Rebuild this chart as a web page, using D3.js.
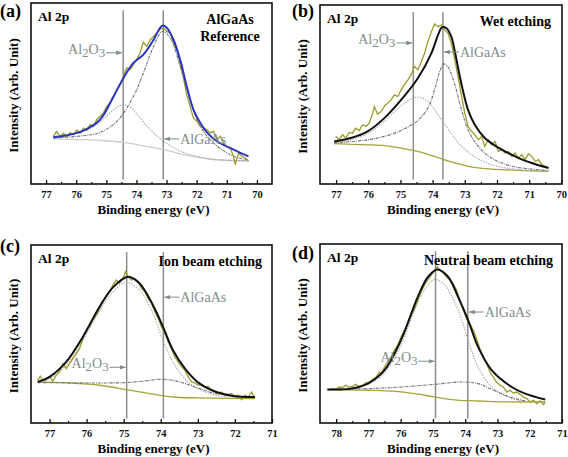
<!DOCTYPE html>
<html>
<head>
<meta charset="utf-8">
<script src="https://cdn.jsdelivr.net/npm/d3@7"></script>
<style>
  body { margin: 0; background: #fff; }
  svg text { font-family: "Liberation Serif", "Times New Roman", serif !important; }
</style>
</head>
<body>
<svg id="chart" width="568" height="457" font-family="Liberation Serif, serif"></svg>
<script>
// values: [binding energy (eV), intensity (arb. units, 0-100 of the frame)]

// (a) AlGaAs reference
const aRaw = [[76.76,26.2],[76.65,29.0],[76.53,26.2],[76.42,28.0],[76.31,25.8],[76.20,28.4],[76.09,27.1],[75.98,29.8],[75.87,28.0],[75.76,30.8],[75.65,29.5],[75.54,32.8],[75.43,31.9],[75.32,35.5],[75.21,37.3],[75.10,39.2],[74.99,42.9],[74.87,44.8],[74.76,48.4],[74.65,52.1],[74.54,54.9],[74.43,59.1],[74.38,62.2],[74.32,64.1],[74.21,63.2],[74.10,65.9],[73.99,68.7],[73.88,72.4],[73.77,78.3],[73.66,76.1],[73.54,79.7],[73.43,81.6],[73.32,83.4],[73.21,85.6],[73.10,86.2],[72.99,84.3],[72.88,83.4],[72.77,77.9],[72.66,74.2],[72.55,66.9],[72.44,58.6],[72.33,49.4],[72.22,43.0],[72.11,36.5],[71.99,34.6],[71.88,31.9],[71.77,31.0],[71.66,30.0],[71.55,28.2],[71.44,29.1],[71.33,24.5],[71.22,26.3],[71.11,22.7],[71.00,20.8],[70.89,19.9],[70.78,15.3],[70.72,10.7],[70.61,17.1],[70.50,15.3],[70.39,14.4],[70.28,12.7]];
const aFit = [[76.76,25.8],[76.31,26.9],[75.76,29.5],[75.21,35.5],[74.76,48.4],[74.43,58.6],[74.10,66.9],[73.77,71.5],[73.43,79.7],[73.28,84.5],[73.14,87.5],[73.00,86.5],[72.77,79.7],[72.55,68.7],[72.33,54.0],[72.11,41.1],[71.88,33.7],[71.66,28.5],[71.33,23.6],[70.78,19.0],[70.28,15.3]];
const aAlGaAs = [[76.76,25.4],[75.76,26.7],[75.21,28.5],[74.65,34.6],[74.10,48.4],[73.77,61.3],[73.43,76.1],[73.14,84.3],[72.88,80.7],[72.55,65.0],[72.22,46.6],[71.88,31.9],[71.44,22.7],[70.78,15.3],[70.28,13.4]];
const aOxide = [[76.76,25.4],[75.76,29.1],[75.21,34.1],[74.76,41.1],[74.49,43.6],[74.21,42.5],[73.88,36.5],[73.54,30.0],[73.10,23.6],[72.44,17.5],[71.88,14.9],[71.33,13.4],[70.28,12.9]];
const aBg = [[76.76,24.9],[75.76,24.5],[75.21,24.1],[74.43,23.0],[73.54,20.4],[72.99,18.6],[72.44,16.2],[71.88,14.5],[71.33,13.4],[70.28,12.7]];

// (b) wet etching
const bRaw = [[77.01,26.6],[76.91,24.7],[76.80,27.5],[76.70,25.7],[76.59,28.8],[76.49,28.4],[76.39,31.2],[76.28,29.9],[76.18,33.1],[76.07,32.2],[75.97,34.0],[75.86,39.6],[75.81,43.3],[75.71,39.0],[75.60,40.5],[75.50,43.3],[75.40,45.2],[75.29,47.0],[75.19,49.8],[75.08,48.9],[74.98,52.6],[74.88,55.4],[74.77,58.2],[74.67,61.0],[74.56,65.6],[74.46,63.8],[74.35,68.4],[74.25,73.0],[74.15,79.6],[74.04,85.1],[73.94,89.4],[73.83,87.9],[73.73,88.8],[73.63,86.1],[73.52,84.2],[73.42,78.6],[73.31,69.3],[73.21,60.0],[73.10,48.9],[73.00,39.6],[72.90,32.2],[72.79,29.4],[72.69,27.5],[72.58,24.7],[72.48,26.6],[72.38,21.0],[72.27,24.7],[72.17,21.9],[72.06,23.8],[71.96,18.2],[71.85,19.1],[71.75,17.3],[71.65,18.2],[71.54,15.4],[71.44,17.3],[71.33,14.5],[71.23,16.4],[71.13,13.6],[71.02,16.9],[70.92,15.4],[70.81,12.6],[70.71,13.6],[70.61,10.8],[70.50,9.9],[70.40,8.9]];
const bFit = [[77.06,23.8],[76.54,25.7],[76.02,29.4],[75.50,36.8],[74.98,47.0],[74.46,59.1],[74.04,73.0],[73.83,83.3],[73.71,87.5],[73.57,87.0],[73.42,82.3],[73.31,74.0],[73.10,55.4],[72.90,41.4],[72.69,33.1],[72.38,25.7],[72.06,21.4],[71.75,18.2],[71.33,14.5],[70.92,11.7],[70.40,8.9]];
const bAlGaAs = [[77.06,22.9],[76.02,24.7],[75.50,26.6],[74.98,29.9],[74.46,35.5],[74.15,42.4],[73.94,52.6],[73.78,62.8],[73.65,67.1],[73.50,64.7],[73.31,55.4],[73.10,41.4],[72.90,30.3],[72.58,21.0],[72.17,14.5],[71.54,9.9],[70.40,7.6]];
const bOxide = [[77.06,22.9],[76.54,24.7],[76.02,28.1],[75.50,34.9],[74.98,43.7],[74.51,48.5],[74.15,46.1],[73.83,38.7],[73.52,30.7],[73.21,23.2],[72.79,16.4],[72.17,10.8],[71.33,8.0],[70.40,7.1]];
const bBg = [[77.06,22.5],[76.02,21.9],[75.50,21.4],[74.98,20.1],[74.46,18.2],[73.94,15.4],[73.42,12.3],[72.90,9.9],[72.38,8.6],[71.33,7.6],[70.40,7.1]];

// (c) ion beam etching
const cRaw = [[77.32,24.0],[77.25,26.3],[77.18,23.6],[77.09,24.4],[77.00,25.9],[76.91,23.6],[76.82,26.8],[76.73,28.7],[76.64,33.4],[76.55,30.6],[76.46,33.4],[76.37,36.2],[76.28,39.0],[76.19,41.8],[76.10,47.5],[76.01,52.2],[75.92,54.6],[75.83,58.1],[75.74,60.6],[75.65,64.4],[75.56,68.1],[75.47,71.0],[75.38,73.7],[75.29,77.5],[75.20,80.3],[75.11,78.8],[75.02,81.2],[74.95,85.0],[74.88,82.2],[74.79,80.3],[74.70,81.2],[74.61,79.4],[74.52,75.6],[74.43,73.7],[74.34,70.0],[74.25,67.2],[74.16,62.5],[74.07,58.8],[73.98,54.0],[73.89,50.3],[73.80,45.6],[73.71,41.8],[73.62,37.1],[73.53,34.3],[73.44,31.5],[73.35,29.6],[73.26,25.9],[73.17,23.1],[73.08,22.5],[72.99,21.2],[72.90,21.8],[72.81,20.3],[72.72,20.6],[72.63,18.4],[72.54,17.4],[72.45,16.5],[72.36,17.4],[72.27,15.6],[72.18,16.1],[72.09,16.5],[72.00,15.0],[71.91,15.6],[71.82,13.1],[71.73,15.6],[71.64,14.6],[71.55,17.4],[71.46,13.7]];
const cFit = [[77.32,23.1],[77.00,25.9],[76.55,34.3],[76.10,48.4],[75.65,65.3],[75.29,76.2],[74.88,82.2],[74.57,78.4],[74.21,66.2],[73.94,54.0],[73.67,40.9],[73.31,29.6],[72.95,22.1],[72.50,17.4],[72.05,15.2],[71.46,14.6]];
const cOxide = [[77.32,22.7],[77.00,25.0],[76.55,32.5],[76.10,46.5],[75.65,63.0],[75.29,73.7],[74.95,79.0],[74.57,74.7],[74.21,61.5],[73.94,46.5],[73.67,34.3],[73.31,24.0],[72.95,18.8],[72.50,15.6],[72.05,14.6],[71.46,14.3]];
const cAlGaAs = [[77.32,22.7],[75.65,22.5],[74.93,22.7],[74.48,23.5],[73.94,24.6],[73.49,23.1],[72.95,19.3],[72.50,16.5],[71.46,14.3]];
const cBg = [[77.32,23.1],[76.55,22.5],[75.65,21.2],[74.93,18.8],[74.30,16.5],[73.67,14.6],[72.95,14.1],[71.46,13.7]];

// (d) neutral beam etching
const dRaw = [[78.22,18.3],[78.11,19.2],[78.01,18.7],[77.91,20.1],[77.80,19.8],[77.70,21.1],[77.60,20.1],[77.49,20.5],[77.39,21.6],[77.28,20.1],[77.18,21.1],[77.08,22.4],[76.97,22.9],[76.87,24.3],[76.76,25.7],[76.66,28.5],[76.61,27.6],[76.50,31.3],[76.40,34.1],[76.30,36.9],[76.19,40.7],[76.09,43.5],[75.99,48.1],[75.88,51.9],[75.78,55.6],[75.67,60.3],[75.57,64.0],[75.47,68.7],[75.36,73.3],[75.26,77.1],[75.15,80.2],[75.05,82.6],[74.95,85.1],[74.86,87.3],[74.79,85.4],[74.69,84.0],[74.58,81.7],[74.48,79.9],[74.38,78.0],[74.27,74.3],[74.17,68.7],[74.06,63.1],[73.96,58.4],[73.86,55.6],[73.75,51.9],[73.65,47.2],[73.55,41.6],[73.44,36.9],[73.34,33.2],[73.23,28.5],[73.13,25.7],[73.03,22.9],[72.92,21.1],[72.82,20.1],[72.71,17.3],[72.61,18.3],[72.51,16.8],[72.40,17.3],[72.30,16.0],[72.20,14.6],[72.09,13.6],[71.99,11.8],[71.88,12.7],[71.78,10.8],[71.68,12.3],[71.57,10.4],[71.52,11.8]];
const dFit = [[78.27,18.7],[77.54,19.2],[77.02,22.0],[76.50,29.5],[75.99,46.3],[75.47,70.5],[75.15,81.7],[74.86,85.8],[74.53,81.7],[74.22,70.5],[73.91,57.5],[73.60,42.5],[73.18,29.5],[72.56,20.1],[72.14,16.4],[71.52,13.1]];
const dOxide = [[78.27,18.7],[77.02,21.6],[76.50,28.0],[75.99,43.5],[75.47,67.2],[75.15,77.1],[74.95,80.2],[74.64,77.1],[74.22,63.1],[73.91,46.3],[73.60,31.3],[73.18,20.1],[72.56,13.6],[72.14,12.3]];
const dAlGaAs = [[78.27,18.7],[77.02,19.2],[75.99,20.1],[74.95,21.6],[74.12,22.9],[73.60,22.0],[73.18,18.8],[72.56,14.2],[72.14,12.3]];
const dBg = [[78.27,18.7],[77.02,18.3],[75.99,17.4],[75.26,15.5],[74.43,13.1],[73.60,12.3],[72.87,11.8],[71.52,11.8]];

// peak positions marked by the vertical lines [Al2O3, AlGaAs]
const aPeaks = [74.44, 73.11];
const bPeaks = [74.60, 73.68];
const cPeaks = [74.92, 73.93];
const dPeaks = [74.92, 73.92];

// tick labels
const aTicks = [77, 76, 75, 74, 73, 72, 71, 70];
const bTicks = [77, 76, 75, 74, 73, 72, 71, 70];
const cTicks = [77, 76, 75, 74, 73, 72, 71];
const dTicks = [78, 77, 76, 75, 74, 73, 72, 71];

const panels = [
  { tag: '(a)', tagX: 0, tagY: 17, box: [31, 3, 272, 184], domain: [77.5, 69.5], ticks: aTicks,
    raw: aRaw, fit: aFit, alg: aAlGaAs, ox: aOxide, bg: aBg, peaks: aPeaks,
    fitColor: '#2a35c4', bgColor: '#cccccc',
    title: ['AlGaAs', 'Reference'], titleAnchor: 'middle', titleX: 230,
    oxLabelV: 72.5, algLabelV: 24.9 },
  { tag: '(b)', tagX: 292, tagY: 17, box: [320, 5, 562, 184], domain: [77.5, 69.98], ticks: bTicks,
    raw: bRaw, fit: bFit, alg: bAlGaAs, ox: bOxide, bg: bBg, peaks: bPeaks,
    fitColor: '#111111', bgColor: '#a6a43c',
    title: ['Wet etching'], titleAnchor: 'end', titleX: 551,
    oxLabelV: 78.8, algLabelV: 73.7 },
  { tag: '(c)', tagX: 0, tagY: 252, box: [31, 245, 272, 423], domain: [77.5, 71], ticks: cTicks,
    raw: cRaw, fit: cFit, alg: cAlGaAs, ox: cOxide, bg: cBg, peaks: cPeaks,
    fitColor: '#111111', bgColor: '#a6a43c',
    title: ['Ion beam etching'], titleAnchor: 'end', titleX: 262,
    oxLabelV: 31.3, algLabelV: 70.7 },
  { tag: '(d)', tagX: 292, tagY: 259, box: [320, 244, 562, 423], domain: [78.5, 71], ticks: dTicks,
    raw: dRaw, fit: dFit, alg: dAlGaAs, ox: dOxide, bg: dBg, peaks: dPeaks,
    fitColor: '#111111', bgColor: '#a6a43c',
    title: ['Neutral beam etching'], titleAnchor: 'end', titleX: 553,
    oxLabelV: 34.5, algLabelV: 62 }
];

const FONT = '"Liberation Serif", "Times New Roman", serif';
const svg = d3.select('#chart');
const annoColor = '#7f8b8b';

svg.append('defs').append('marker')
  .attr('id', 'arrow')
  .attr('viewBox', '0 0 8 6')
  .attr('refX', 8).attr('refY', 3)
  .attr('markerWidth', 6).attr('markerHeight', 5)
  .attr('markerUnits', 'userSpaceOnUse')
  .attr('orient', 'auto')
  .append('path').attr('d', 'M0,0L8,3L0,6Z').attr('fill', annoColor);

// writes "Al2O3" with lowered digits
function chemText(sel, str) {
  let low = false;
  str.match(/[A-Za-z]+|\d+/g).forEach((part) => {
    const isNum = /\d/.test(part);
    sel.append('tspan')
      .attr('dy', isNum && !low ? 3 : !isNum && low ? -3 : 0)
      .attr('font-size', isNum ? 13 : 14)
      .text(part);
    low = isNum;
  });
}

panels.forEach((p) => {
  const [l, t, r, b] = p.box;
  const x = d3.scaleLinear().domain(p.domain).range([l, r]);
  const y = d3.scaleLinear().domain([0, 100]).range([b, t]);
  const g = svg.append('g').attr('font-family', FONT);

  // vertical peak markers
  g.selectAll('.peak')
    .data(p.peaks)
    .join('line')
    .attr('x1', (d) => x(d)).attr('x2', (d) => x(d))
    .attr('y1', y(96)).attr('y2', y(2.5))
    .attr('stroke', '#8c8c8c')
    .attr('stroke-width', 1.5);

  const smooth = d3.line().x((d) => x(d[0])).y((d) => y(d[1])).curve(d3.curveCatmullRom.alpha(0.5));
  const jagged = d3.line().x((d) => x(d[0])).y((d) => y(d[1]));

  g.append('path').attr('d', smooth(p.bg)).attr('fill', 'none')
    .attr('stroke', p.bgColor).attr('stroke-width', 1.3);
  g.append('path').attr('d', smooth(p.ox)).attr('fill', 'none')
    .attr('stroke', '#a9a9a9').attr('stroke-width', 1.1).attr('stroke-dasharray', '1.5,1.2');
  g.append('path').attr('d', smooth(p.alg)).attr('fill', 'none')
    .attr('stroke', '#6e6e6e').attr('stroke-width', 1.1).attr('stroke-dasharray', '3,1,1,1');
  g.append('path').attr('d', jagged(p.raw)).attr('fill', 'none')
    .attr('stroke', '#9b9a2a').attr('stroke-width', 1.3);
  g.append('path').attr('d', smooth(p.fit)).attr('fill', 'none')
    .attr('stroke', p.fitColor).attr('stroke-width', 2);

  // frame
  g.append('rect')
    .attr('x', l).attr('y', t).attr('width', r - l).attr('height', b - t)
    .attr('fill', 'none').attr('stroke', '#111').attr('stroke-width', 1.6);

  // bottom axis with inward ticks
  const axis = g.append('g')
    .attr('transform', `translate(0,${b})`)
    .call(d3.axisBottom(x).tickValues(p.ticks).tickFormat(d3.format('d'))
      .tickSizeInner(-4).tickSizeOuter(0).tickPadding(7));
  axis.attr('font-family', FONT);
  axis.select('.domain').remove();
  axis.selectAll('.tick line').attr('stroke', '#111').attr('stroke-width', 1.3);
  axis.selectAll('.tick text')
    .attr('fill', '#111')
    .attr('font-family', FONT)
    .attr('font-weight', 'bold')
    .attr('font-size', 10.5);

  const halves = d3.range(Math.ceil(p.domain[1]) - 0.5, p.domain[0], 1)
    .filter((v) => v > p.domain[1] && v < p.domain[0]);
  const minor = g.append('g')
    .attr('transform', `translate(0,${b})`)
    .call(d3.axisBottom(x).tickValues(halves).tickFormat('')
      .tickSizeInner(-2).tickSizeOuter(0));
  minor.select('.domain').remove();
  minor.selectAll('.tick line').attr('stroke', '#111').attr('stroke-width', 1.2);

  // axis titles
  g.append('text')
    .attr('x', (l + r) / 2 + 2).attr('y', b + 30)
    .attr('text-anchor', 'middle')
    .attr('font-family', FONT)
    .attr('font-weight', 'bold').attr('font-size', 13)
    .text('Binding energy (eV)');
  g.append('text')
    .attr('transform', `translate(${l - 13},${(t + b) / 2 + 2}) rotate(-90)`)
    .attr('text-anchor', 'middle')
    .attr('font-family', FONT)
    .attr('font-weight', 'bold').attr('font-size', 13)
    .text('Intensity (Arb. Unit)');

  // panel tag, line name and sample name
  g.append('text')
    .attr('x', p.tagX).attr('y', p.tagY)
    .attr('font-family', FONT)
    .attr('font-weight', 'bold').attr('font-size', 18)
    .text(p.tag);
  g.append('text')
    .attr('x', l + 7).attr('y', t + 18)
    .attr('font-family', FONT)
    .attr('font-weight', 'bold').attr('font-size', 13.5)
    .text('Al 2p');
  g.selectAll('.title')
    .data(p.title)
    .join('text')
    .attr('x', p.titleX).attr('y', (d, i) => t + 21 + i * 17)
    .attr('text-anchor', p.titleAnchor)
    .attr('font-family', FONT)
    .attr('font-weight', 'bold').attr('font-size', 14)
    .text((d) => d);

  // annotations pointing at the peak lines
  const ox = x(p.peaks[0]);
  const oy = y(p.oxLabelV);
  g.append('line')
    .attr('x1', ox - 17).attr('x2', ox - 1).attr('y1', oy).attr('y2', oy)
    .attr('stroke', annoColor).attr('stroke-width', 1).attr('marker-end', 'url(#arrow)');
  chemText(
    g.append('text').attr('x', ox - 18).attr('y', oy + 1)
      .attr('text-anchor', 'end').attr('fill', annoColor)
      .attr('font-family', FONT),
    'Al2O3'
  );

  const ax = x(p.peaks[1]);
  const ay = y(p.algLabelV);
  g.append('line')
    .attr('x1', ax + 16).attr('x2', ax + 1).attr('y1', ay).attr('y2', ay)
    .attr('stroke', annoColor).attr('stroke-width', 1).attr('marker-end', 'url(#arrow)');
  g.append('text')
    .attr('x', ax + 17).attr('y', ay + 5)
    .attr('fill', annoColor).attr('font-size', 14)
    .attr('font-family', FONT)
    .text('AlGaAs');
});
</script>
</body>
</html>
